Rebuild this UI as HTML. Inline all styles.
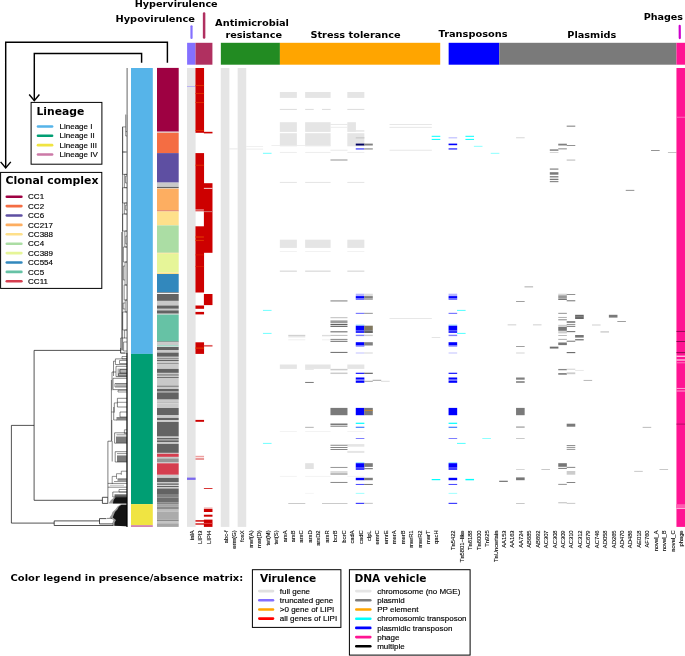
<!DOCTYPE html>
<html><head><meta charset="utf-8"><title>Presence/absence matrix</title>
<style>
html,body{margin:0;padding:0;background:#fff;}
svg{display:block;}
.b{font-family:"DejaVu Sans","Liberation Sans",sans-serif;font-weight:bold;fill:#000;}
.t{font-family:"Liberation Sans",sans-serif;fill:#000;stroke:#000;stroke-width:0.15;}
</style></head><body>
<svg width="685" height="656" viewBox="0 0 685 656">
<rect width="685" height="656" fill="#fff"/>
<g shape-rendering="auto">
<rect x="187.10" y="42.80" width="8.44" height="21.90" fill="#8470ff"/>
<rect x="195.54" y="42.80" width="16.87" height="21.90" fill="#b03060"/>
<rect x="220.85" y="42.80" width="59.06" height="21.90" fill="#228b22"/>
<rect x="279.91" y="42.80" width="160.30" height="21.90" fill="#ffa500"/>
<rect x="448.65" y="42.80" width="50.62" height="21.90" fill="#0000ff"/>
<rect x="499.27" y="42.80" width="177.18" height="21.90" fill="#7a7a7a"/>
<rect x="676.45" y="42.80" width="8.55" height="21.90" fill="#ff1493"/>
<line x1="191.5" y1="26.3" x2="191.5" y2="38.0" stroke="#8470ff" stroke-width="2.2" stroke-linecap="round"/>
<line x1="204.1" y1="13.6" x2="204.1" y2="37.6" stroke="#b03060" stroke-width="2.5" stroke-linecap="round"/>
<line x1="679.7" y1="25.9" x2="679.8" y2="38.1" stroke="#cd00cd" stroke-width="2.2" stroke-linecap="round"/>
<rect x="131.00" y="68.00" width="21.80" height="285.90" fill="#56b4e9"/>
<rect x="131.00" y="353.90" width="21.80" height="150.20" fill="#009e73"/>
<rect x="131.00" y="504.10" width="21.80" height="21.10" fill="#f0e442"/>
<rect x="131.00" y="525.20" width="21.80" height="1.70" fill="#cc79a7"/>
<rect x="157.00" y="67.90" width="21.70" height="63.80" fill="#9e0142"/>
<rect x="157.00" y="131.70" width="21.70" height="1.00" fill="#d9d9d9"/>
<rect x="157.00" y="132.70" width="21.70" height="20.40" fill="#f46d43"/>
<rect x="157.00" y="153.10" width="21.70" height="29.50" fill="#5e4fa2"/>
<rect x="157.00" y="182.60" width="21.70" height="4.30" fill="#c9c9c9"/>
<rect x="157.00" y="186.90" width="21.70" height="1.10" fill="#636363"/>
<rect x="157.00" y="188.00" width="21.70" height="0.70" fill="#c9c9c9"/>
<rect x="157.00" y="188.70" width="21.70" height="21.70" fill="#fdae61"/>
<rect x="157.00" y="210.40" width="21.70" height="1.00" fill="#d6604d"/>
<rect x="157.00" y="211.40" width="21.70" height="14.00" fill="#fee08b"/>
<rect x="157.00" y="225.40" width="21.70" height="27.40" fill="#abdda4"/>
<rect x="157.00" y="252.80" width="21.70" height="0.90" fill="#fee08b"/>
<rect x="157.00" y="253.70" width="21.70" height="18.90" fill="#e6f598"/>
<rect x="157.00" y="272.60" width="21.70" height="1.40" fill="#fee08b"/>
<rect x="157.00" y="274.00" width="21.70" height="18.40" fill="#3288bd"/>
<rect x="157.00" y="292.40" width="21.70" height="0.60" fill="#636363"/>
<rect x="157.00" y="293.00" width="21.70" height="1.00" fill="#f4f4f4"/>
<rect x="157.00" y="294.00" width="21.70" height="6.90" fill="#636363"/>
<rect x="157.00" y="300.90" width="21.70" height="4.60" fill="#c9c9c9"/>
<rect x="157.00" y="305.50" width="21.70" height="3.30" fill="#636363"/>
<rect x="157.00" y="308.80" width="21.70" height="1.60" fill="#c9c9c9"/>
<rect x="157.00" y="310.40" width="21.70" height="3.30" fill="#636363"/>
<rect x="157.00" y="313.70" width="21.70" height="0.90" fill="#c9c9c9"/>
<rect x="157.00" y="314.60" width="21.70" height="26.90" fill="#66c2a5"/>
<rect x="157.00" y="341.50" width="21.70" height="0.80" fill="#636363"/>
<rect x="157.00" y="342.30" width="21.70" height="2.70" fill="#c9c9c9"/>
<rect x="157.00" y="345.00" width="21.70" height="1.60" fill="#a5d9c8"/>
<rect x="157.00" y="346.60" width="21.70" height="0.40" fill="#c9c9c9"/>
<rect x="157.00" y="347.00" width="21.70" height="3.00" fill="#636363"/>
<rect x="157.00" y="350.00" width="21.70" height="2.60" fill="#c9c9c9"/>
<rect x="157.00" y="352.60" width="21.70" height="4.20" fill="#636363"/>
<rect x="157.00" y="356.80" width="21.70" height="1.10" fill="#c9c9c9"/>
<rect x="157.00" y="357.90" width="21.70" height="0.90" fill="#636363"/>
<rect x="157.00" y="358.80" width="21.70" height="1.00" fill="#c9c9c9"/>
<rect x="157.00" y="359.80" width="21.70" height="1.20" fill="#636363"/>
<rect x="157.00" y="361.00" width="21.70" height="2.40" fill="#c9c9c9"/>
<rect x="157.00" y="363.40" width="21.70" height="0.90" fill="#636363"/>
<rect x="157.00" y="364.30" width="21.70" height="4.60" fill="#c9c9c9"/>
<rect x="157.00" y="368.90" width="21.70" height="4.00" fill="#636363"/>
<rect x="157.00" y="372.90" width="21.70" height="1.50" fill="#c9c9c9"/>
<rect x="157.00" y="374.40" width="21.70" height="1.30" fill="#636363"/>
<rect x="157.00" y="375.70" width="21.70" height="1.40" fill="#c9c9c9"/>
<rect x="157.00" y="377.10" width="21.70" height="0.90" fill="#636363"/>
<rect x="157.00" y="378.00" width="21.70" height="7.70" fill="#c9c9c9"/>
<rect x="157.00" y="385.70" width="21.70" height="1.10" fill="#636363"/>
<rect x="157.00" y="386.80" width="21.70" height="2.20" fill="#c9c9c9"/>
<rect x="157.00" y="389.00" width="21.70" height="2.20" fill="#636363"/>
<rect x="157.00" y="391.20" width="21.70" height="1.80" fill="#969696"/>
<rect x="157.00" y="393.00" width="21.70" height="6.60" fill="#636363"/>
<rect x="157.00" y="399.60" width="21.70" height="2.40" fill="#c9c9c9"/>
<rect x="157.00" y="402.00" width="21.70" height="1.50" fill="#bdbdbd"/>
<rect x="157.00" y="403.50" width="21.70" height="4.50" fill="#c9c9c9"/>
<rect x="157.00" y="408.00" width="21.70" height="7.00" fill="#636363"/>
<rect x="157.00" y="415.00" width="21.70" height="2.90" fill="#c9c9c9"/>
<rect x="157.00" y="417.90" width="21.70" height="2.20" fill="#636363"/>
<rect x="157.00" y="420.10" width="21.70" height="1.90" fill="#c9c9c9"/>
<rect x="157.00" y="422.00" width="21.70" height="14.60" fill="#636363"/>
<rect x="157.00" y="436.60" width="21.70" height="1.40" fill="#c9c9c9"/>
<rect x="157.00" y="438.00" width="21.70" height="1.70" fill="#636363"/>
<rect x="157.00" y="439.70" width="21.70" height="0.60" fill="#c9c9c9"/>
<rect x="157.00" y="440.30" width="21.70" height="1.70" fill="#636363"/>
<rect x="157.00" y="442.00" width="21.70" height="1.90" fill="#c9c9c9"/>
<rect x="157.00" y="443.90" width="21.70" height="9.00" fill="#636363"/>
<rect x="157.00" y="452.90" width="21.70" height="0.90" fill="#c9c9c9"/>
<rect x="157.00" y="453.80" width="21.70" height="3.10" fill="#d53e4f"/>
<rect x="157.00" y="456.90" width="21.70" height="1.50" fill="#c9c9c9"/>
<rect x="157.00" y="458.40" width="21.70" height="3.60" fill="#969696"/>
<rect x="157.00" y="462.00" width="21.70" height="1.30" fill="#c9c9c9"/>
<rect x="157.00" y="463.30" width="21.70" height="11.50" fill="#d53e4f"/>
<rect x="157.00" y="474.80" width="21.70" height="3.10" fill="#c9c9c9"/>
<rect x="157.00" y="477.90" width="21.70" height="4.10" fill="#636363"/>
<rect x="157.00" y="482.00" width="21.70" height="1.40" fill="#c9c9c9"/>
<rect x="157.00" y="483.40" width="21.70" height="1.50" fill="#636363"/>
<rect x="157.00" y="484.90" width="21.70" height="0.90" fill="#f0f0f0"/>
<rect x="157.00" y="485.80" width="21.70" height="1.30" fill="#636363"/>
<rect x="157.00" y="487.10" width="21.70" height="1.40" fill="#c9c9c9"/>
<rect x="157.00" y="488.50" width="21.70" height="5.50" fill="#636363"/>
<rect x="157.00" y="494.00" width="21.70" height="3.70" fill="#808080"/>
<rect x="157.00" y="497.70" width="21.70" height="4.50" fill="#6e6e6e"/>
<rect x="157.00" y="502.20" width="21.70" height="1.90" fill="#858585"/>
<rect x="157.00" y="504.10" width="21.70" height="2.70" fill="#a3a3a3"/>
<rect x="157.00" y="506.80" width="21.70" height="2.80" fill="#8c8c8c"/>
<rect x="157.00" y="509.60" width="21.70" height="1.80" fill="#bdbdbd"/>
<rect x="157.00" y="511.40" width="21.70" height="8.20" fill="#ababab"/>
<rect x="157.00" y="519.60" width="21.70" height="1.90" fill="#8c8c8c"/>
<rect x="157.00" y="521.50" width="21.70" height="1.80" fill="#c4c4c4"/>
<rect x="157.00" y="523.30" width="21.70" height="3.60" fill="#a6a6a6"/>
<rect x="187.02" y="68.00" width="8.60" height="458.90" fill="#e5e5e5"/>
<rect x="187.02" y="86.10" width="8.60" height="0.60" fill="#9d90ff"/>
<rect x="187.02" y="477.60" width="8.60" height="2.30" fill="#7b68ee"/>
<rect x="195.46" y="68.00" width="8.60" height="64.80" fill="#cd0000"/>
<rect x="195.46" y="85.20" width="8.60" height="0.80" fill="#e23400"/>
<rect x="195.46" y="93.10" width="8.60" height="0.80" fill="#e23400"/>
<rect x="195.46" y="102.00" width="8.60" height="0.80" fill="#e23400"/>
<rect x="195.46" y="130.00" width="8.60" height="0.80" fill="#e23400"/>
<rect x="195.46" y="153.10" width="8.60" height="56.50" fill="#cd0000"/>
<rect x="195.46" y="164.80" width="8.60" height="0.80" fill="#e23400"/>
<rect x="195.46" y="210.35" width="8.60" height="0.90" fill="#cd0000"/>
<rect x="195.46" y="226.30" width="8.60" height="66.20" fill="#cd0000"/>
<rect x="195.46" y="236.40" width="8.60" height="1.20" fill="#e23400"/>
<rect x="195.46" y="239.90" width="8.60" height="1.00" fill="#e23400"/>
<rect x="195.46" y="254.55" width="8.60" height="0.70" fill="#e02000"/>
<rect x="195.46" y="266.15" width="8.60" height="0.70" fill="#e02000"/>
<rect x="195.46" y="305.50" width="8.60" height="3.30" fill="#cd0000"/>
<rect x="195.46" y="311.90" width="8.60" height="2.50" fill="#cd0000"/>
<rect x="195.46" y="342.30" width="8.60" height="11.60" fill="#cd0000"/>
<rect x="195.46" y="347.55" width="8.60" height="1.10" fill="#e23a00"/>
<rect x="195.46" y="419.90" width="8.60" height="1.90" fill="#cd0000"/>
<rect x="195.46" y="455.80" width="8.60" height="1.50" fill="#eda0a0"/>
<rect x="195.46" y="458.20" width="8.60" height="1.60" fill="#e58080"/>
<rect x="195.46" y="520.00" width="8.60" height="1.80" fill="#d83030"/>
<rect x="195.46" y="523.20" width="8.60" height="1.60" fill="#d83030"/>
<rect x="203.89" y="131.80" width="8.60" height="1.60" fill="#cd0000"/>
<rect x="203.89" y="183.20" width="8.60" height="69.60" fill="#cd0000"/>
<rect x="203.89" y="187.90" width="8.60" height="0.80" fill="#ffffff"/>
<rect x="203.89" y="211.30" width="8.60" height="0.80" fill="#d09090"/>
<rect x="203.89" y="294.00" width="8.60" height="11.10" fill="#cd0000"/>
<rect x="203.89" y="344.95" width="8.60" height="1.70" fill="#e06060"/>
<rect x="203.89" y="488.05" width="8.60" height="0.90" fill="#d42020"/>
<rect x="203.89" y="507.40" width="8.60" height="1.60" fill="#eeb0b0"/>
<rect x="203.89" y="509.00" width="8.60" height="3.00" fill="#cd0000"/>
<rect x="203.89" y="514.70" width="8.60" height="2.00" fill="#cd0000"/>
<rect x="203.89" y="519.60" width="8.60" height="7.30" fill="#cd0000"/>
<rect x="203.89" y="522.95" width="8.60" height="0.70" fill="#e66060"/>
<rect x="220.77" y="68.00" width="8.60" height="458.90" fill="#e5e5e5"/>
<rect x="237.64" y="68.00" width="8.60" height="458.90" fill="#e5e5e5"/>
<rect x="229.20" y="148.40" width="8.60" height="1.00" fill="#e8e8e8"/>
<rect x="246.08" y="146.05" width="17.03" height="0.90" fill="#efefef"/>
<rect x="246.08" y="148.65" width="17.03" height="0.90" fill="#ebebeb"/>
<rect x="262.95" y="152.80" width="8.60" height="1.00" fill="#70ffff"/>
<rect x="262.95" y="309.90" width="8.60" height="1.00" fill="#70ffff"/>
<rect x="262.95" y="332.90" width="8.60" height="1.00" fill="#70ffff"/>
<rect x="262.95" y="442.90" width="8.60" height="1.00" fill="#70ffff"/>
<rect x="279.83" y="92.00" width="17.03" height="5.90" fill="#e5e5e5"/>
<rect x="305.14" y="92.00" width="25.47" height="5.90" fill="#e5e5e5"/>
<rect x="347.32" y="92.00" width="17.03" height="5.90" fill="#e5e5e5"/>
<rect x="279.83" y="108.90" width="17.03" height="1.00" fill="#dcdcdc"/>
<rect x="305.14" y="108.90" width="8.60" height="1.00" fill="#dcdcdc"/>
<rect x="322.01" y="108.90" width="8.60" height="1.00" fill="#dcdcdc"/>
<rect x="347.32" y="108.90" width="17.03" height="1.00" fill="#dcdcdc"/>
<rect x="279.83" y="122.20" width="17.03" height="9.70" fill="#e5e5e5"/>
<rect x="305.14" y="122.20" width="25.47" height="9.70" fill="#e5e5e5"/>
<rect x="347.32" y="122.20" width="8.60" height="9.70" fill="#e5e5e5"/>
<rect x="355.76" y="130.20" width="8.60" height="1.50" fill="#e5e5e5"/>
<rect x="279.83" y="133.20" width="17.03" height="13.10" fill="#e5e5e5"/>
<rect x="305.14" y="133.20" width="25.47" height="13.10" fill="#e5e5e5"/>
<rect x="347.32" y="133.20" width="17.03" height="13.10" fill="#e5e5e5"/>
<rect x="355.76" y="137.00" width="8.60" height="1.60" fill="#cfcfcf"/>
<rect x="271.39" y="145.20" width="59.22" height="0.80" fill="#ececec"/>
<rect x="279.83" y="151.95" width="17.03" height="0.90" fill="#ececec"/>
<rect x="305.14" y="151.95" width="25.47" height="0.90" fill="#ececec"/>
<rect x="347.32" y="151.95" width="17.03" height="0.90" fill="#ececec"/>
<rect x="279.83" y="181.90" width="17.03" height="1.00" fill="#e4e4e4"/>
<rect x="305.14" y="181.90" width="25.47" height="1.00" fill="#e4e4e4"/>
<rect x="347.32" y="181.90" width="17.03" height="1.00" fill="#e4e4e4"/>
<rect x="279.83" y="239.70" width="17.03" height="8.20" fill="#e5e5e5"/>
<rect x="305.14" y="239.70" width="25.47" height="8.20" fill="#e5e5e5"/>
<rect x="347.32" y="239.70" width="17.03" height="8.20" fill="#e5e5e5"/>
<rect x="279.83" y="250.95" width="17.03" height="0.90" fill="#f0f0f0"/>
<rect x="305.14" y="250.95" width="25.47" height="0.90" fill="#f0f0f0"/>
<rect x="347.32" y="250.95" width="17.03" height="0.90" fill="#f0f0f0"/>
<rect x="279.83" y="270.50" width="17.03" height="1.40" fill="#dedede"/>
<rect x="305.14" y="270.50" width="25.47" height="1.40" fill="#dedede"/>
<rect x="347.32" y="270.50" width="17.03" height="1.40" fill="#dedede"/>
<rect x="288.26" y="334.85" width="17.03" height="1.10" fill="#cfcfcf"/>
<rect x="288.26" y="336.25" width="17.03" height="1.10" fill="#e0e0e0"/>
<rect x="288.26" y="339.20" width="17.03" height="1.20" fill="#f2f2f2"/>
<rect x="322.01" y="334.90" width="8.60" height="1.40" fill="#dddddd"/>
<rect x="322.01" y="339.20" width="8.60" height="1.20" fill="#f2f2f2"/>
<rect x="279.83" y="364.50" width="17.03" height="4.40" fill="#e5e5e5"/>
<rect x="305.14" y="364.50" width="25.47" height="4.40" fill="#e5e5e5"/>
<rect x="347.32" y="364.50" width="17.03" height="4.40" fill="#e5e5e5"/>
<rect x="305.14" y="368.90" width="8.60" height="1.10" fill="#e9e9e9"/>
<rect x="305.14" y="381.95" width="8.60" height="0.90" fill="#6a6a6a"/>
<rect x="305.14" y="426.85" width="8.60" height="0.90" fill="#aaaaaa"/>
<rect x="279.83" y="431.10" width="17.03" height="0.80" fill="#f0f0f0"/>
<rect x="305.14" y="431.10" width="25.47" height="0.80" fill="#f0f0f0"/>
<rect x="347.32" y="431.10" width="17.03" height="0.80" fill="#f0f0f0"/>
<rect x="305.14" y="463.20" width="8.60" height="5.80" fill="#e2e2e2"/>
<rect x="279.83" y="475.90" width="17.03" height="0.80" fill="#f0f0f0"/>
<rect x="305.14" y="475.90" width="25.47" height="0.80" fill="#f0f0f0"/>
<rect x="347.32" y="475.90" width="17.03" height="0.80" fill="#f0f0f0"/>
<rect x="305.14" y="492.90" width="8.60" height="0.80" fill="#f2f2f2"/>
<rect x="288.26" y="503.00" width="17.03" height="0.80" fill="#bdbdbd"/>
<rect x="322.01" y="503.00" width="25.47" height="0.80" fill="#bdbdbd"/>
<rect x="347.32" y="444.10" width="17.03" height="2.60" fill="#e5e5e5"/>
<rect x="347.32" y="450.90" width="17.03" height="2.00" fill="#e5e5e5"/>
<rect x="330.45" y="123.95" width="17.03" height="0.90" fill="#e6e6e6"/>
<rect x="330.45" y="126.85" width="17.03" height="0.90" fill="#ececec"/>
<rect x="330.45" y="149.75" width="17.03" height="0.90" fill="#e6e6e6"/>
<rect x="330.45" y="159.25" width="17.03" height="1.50" fill="#b8b8b8"/>
<rect x="330.45" y="300.15" width="17.03" height="1.50" fill="#a8a8a8"/>
<rect x="330.45" y="317.20" width="17.03" height="1.00" fill="#bdbdbd"/>
<rect x="330.45" y="320.40" width="17.03" height="2.60" fill="#9c9c9c"/>
<rect x="330.45" y="323.85" width="17.03" height="1.10" fill="#585858"/>
<rect x="330.45" y="325.75" width="17.03" height="1.10" fill="#585858"/>
<rect x="330.45" y="331.20" width="17.03" height="1.20" fill="#7a7a7a"/>
<rect x="330.45" y="334.90" width="17.03" height="1.00" fill="#bdbdbd"/>
<rect x="330.45" y="338.90" width="17.03" height="1.00" fill="#8a8a8a"/>
<rect x="330.45" y="340.80" width="17.03" height="1.00" fill="#6a6a6a"/>
<rect x="330.45" y="351.90" width="17.03" height="1.00" fill="#6a6a6a"/>
<rect x="330.45" y="368.85" width="17.03" height="1.50" fill="#cccccc"/>
<rect x="330.45" y="372.55" width="17.03" height="1.50" fill="#cccccc"/>
<rect x="330.45" y="407.90" width="17.03" height="7.30" fill="#7a7a7a"/>
<rect x="330.45" y="423.50" width="17.03" height="1.60" fill="#7a7a7a"/>
<rect x="330.45" y="425.70" width="17.03" height="1.10" fill="#8c8c8c"/>
<rect x="330.45" y="444.80" width="17.03" height="0.80" fill="#6a6a6a"/>
<rect x="330.45" y="447.00" width="17.03" height="0.80" fill="#6a6a6a"/>
<rect x="330.45" y="449.00" width="17.03" height="0.80" fill="#6a6a6a"/>
<rect x="330.45" y="466.95" width="17.03" height="0.90" fill="#8a8a8a"/>
<rect x="330.45" y="471.00" width="17.03" height="1.40" fill="#dddddd"/>
<rect x="330.45" y="472.60" width="17.03" height="2.40" fill="#bdbdbd"/>
<rect x="330.45" y="481.95" width="17.03" height="0.90" fill="#7a7a7a"/>
<rect x="389.51" y="124.00" width="42.34" height="0.80" fill="#e2e2e2"/>
<rect x="389.51" y="126.90" width="42.34" height="0.80" fill="#e2e2e2"/>
<rect x="389.51" y="149.80" width="42.34" height="0.80" fill="#e2e2e2"/>
<rect x="389.51" y="318.00" width="42.34" height="0.80" fill="#e2e2e2"/>
<rect x="431.69" y="135.80" width="8.60" height="1.00" fill="#00ffff"/>
<rect x="431.69" y="138.90" width="8.60" height="1.00" fill="#00ffff"/>
<rect x="431.69" y="337.00" width="8.60" height="0.80" fill="#dedede"/>
<rect x="431.69" y="479.00" width="8.60" height="1.20" fill="#00ffff"/>
<rect x="448.57" y="137.00" width="8.60" height="1.50" fill="#ccccff"/>
<rect x="355.76" y="143.60" width="8.60" height="1.90" fill="#000060"/>
<rect x="364.20" y="143.60" width="8.60" height="1.90" fill="#808080"/>
<rect x="448.57" y="143.60" width="8.60" height="1.60" fill="#0000ff"/>
<rect x="355.76" y="148.10" width="8.60" height="1.60" fill="#6a6aff"/>
<rect x="364.20" y="148.10" width="8.60" height="1.60" fill="#aaaaaa"/>
<rect x="448.57" y="148.00" width="8.60" height="1.80" fill="#6666ff"/>
<rect x="355.76" y="293.70" width="8.60" height="2.40" fill="#b4b4ff"/>
<rect x="448.57" y="293.70" width="8.60" height="2.40" fill="#b4b4ff"/>
<rect x="364.20" y="293.70" width="8.60" height="2.40" fill="#dddddd"/>
<rect x="355.76" y="296.10" width="8.60" height="2.20" fill="#0000ff"/>
<rect x="448.57" y="296.10" width="8.60" height="2.20" fill="#0000ff"/>
<rect x="364.20" y="296.10" width="8.60" height="2.20" fill="#808080"/>
<rect x="355.76" y="298.30" width="8.60" height="1.50" fill="#5555ff"/>
<rect x="448.57" y="298.30" width="8.60" height="1.50" fill="#5555ff"/>
<rect x="364.20" y="298.30" width="8.60" height="1.50" fill="#9a9a9a"/>
<rect x="355.76" y="312.85" width="8.60" height="0.90" fill="#5050ff"/>
<rect x="448.57" y="312.85" width="8.60" height="0.90" fill="#5050ff"/>
<rect x="364.20" y="312.85" width="8.60" height="0.90" fill="#888888"/>
<rect x="355.76" y="324.40" width="8.60" height="1.30" fill="#b0e8ff"/>
<rect x="448.57" y="324.40" width="8.60" height="1.30" fill="#b0e8ff"/>
<rect x="355.76" y="325.70" width="8.60" height="4.60" fill="#0000ff"/>
<rect x="448.57" y="325.70" width="8.60" height="4.60" fill="#0000ff"/>
<rect x="364.20" y="325.70" width="8.60" height="4.60" fill="#807860"/>
<rect x="355.76" y="330.30" width="8.60" height="2.70" fill="#3030ff"/>
<rect x="448.57" y="330.30" width="8.60" height="2.70" fill="#3030ff"/>
<rect x="364.20" y="330.30" width="8.60" height="2.70" fill="#666666"/>
<rect x="355.76" y="334.70" width="8.60" height="1.40" fill="#8080ff"/>
<rect x="448.57" y="334.70" width="8.60" height="1.40" fill="#8080ff"/>
<rect x="364.20" y="334.70" width="8.60" height="1.40" fill="#cccccc"/>
<rect x="355.76" y="342.20" width="8.60" height="3.30" fill="#0000ff"/>
<rect x="448.57" y="342.20" width="8.60" height="3.30" fill="#0000ff"/>
<rect x="364.20" y="342.20" width="8.60" height="3.30" fill="#808080"/>
<rect x="355.76" y="345.50" width="8.60" height="1.10" fill="#7070ff"/>
<rect x="448.57" y="345.50" width="8.60" height="1.10" fill="#7070ff"/>
<rect x="355.76" y="352.40" width="8.60" height="1.20" fill="#ccccff"/>
<rect x="448.57" y="352.40" width="8.60" height="1.20" fill="#ccccff"/>
<rect x="364.20" y="352.40" width="8.60" height="1.20" fill="#dddddd"/>
<rect x="355.76" y="372.75" width="8.60" height="1.10" fill="#0000ff"/>
<rect x="448.57" y="372.75" width="8.60" height="1.10" fill="#0000ff"/>
<rect x="364.20" y="372.75" width="8.60" height="1.10" fill="#585858"/>
<rect x="355.76" y="377.50" width="8.60" height="2.20" fill="#0000ff"/>
<rect x="448.57" y="377.50" width="8.60" height="2.20" fill="#0000ff"/>
<rect x="355.76" y="379.70" width="8.60" height="0.90" fill="#9999ff"/>
<rect x="448.57" y="379.70" width="8.60" height="0.90" fill="#9999ff"/>
<rect x="355.76" y="380.60" width="8.60" height="2.20" fill="#0000ff"/>
<rect x="448.57" y="380.60" width="8.60" height="2.20" fill="#0000ff"/>
<rect x="364.20" y="380.85" width="8.60" height="0.70" fill="#7a7a7a"/>
<rect x="372.63" y="379.85" width="8.60" height="0.70" fill="#7a7a7a"/>
<rect x="381.07" y="380.85" width="8.60" height="0.70" fill="#cccccc"/>
<rect x="355.76" y="407.90" width="8.60" height="7.30" fill="#0000ff"/>
<rect x="448.57" y="407.90" width="8.60" height="7.30" fill="#0000ff"/>
<rect x="364.20" y="407.90" width="8.60" height="7.30" fill="#7a7a7a"/>
<rect x="364.20" y="409.95" width="8.60" height="0.70" fill="#d98a1e"/>
<rect x="355.76" y="422.70" width="8.60" height="1.20" fill="#00ffff"/>
<rect x="448.57" y="422.70" width="8.60" height="1.20" fill="#00ffff"/>
<rect x="355.76" y="426.70" width="8.60" height="1.20" fill="#4080ff"/>
<rect x="448.57" y="426.70" width="8.60" height="1.20" fill="#4080ff"/>
<rect x="355.76" y="438.05" width="8.60" height="0.90" fill="#7070ff"/>
<rect x="448.57" y="438.05" width="8.60" height="0.90" fill="#7070ff"/>
<rect x="355.76" y="462.30" width="8.60" height="0.90" fill="#80e0ff"/>
<rect x="448.57" y="462.30" width="8.60" height="0.90" fill="#80e0ff"/>
<rect x="355.76" y="463.20" width="8.60" height="4.50" fill="#0000ff"/>
<rect x="448.57" y="463.20" width="8.60" height="4.50" fill="#0000ff"/>
<rect x="364.20" y="463.20" width="8.60" height="3.70" fill="#7a7a7a"/>
<rect x="355.76" y="467.70" width="8.60" height="2.30" fill="#4040ff"/>
<rect x="448.57" y="467.70" width="8.60" height="2.30" fill="#4040ff"/>
<rect x="364.20" y="468.20" width="8.60" height="1.00" fill="#666666"/>
<rect x="355.76" y="477.80" width="8.60" height="2.40" fill="#0000ff"/>
<rect x="448.57" y="477.80" width="8.60" height="2.40" fill="#0000ff"/>
<rect x="364.20" y="477.80" width="8.60" height="2.40" fill="#7a7a7a"/>
<rect x="355.76" y="483.95" width="8.60" height="0.90" fill="#3030ff"/>
<rect x="448.57" y="483.95" width="8.60" height="0.90" fill="#3030ff"/>
<rect x="364.20" y="483.95" width="8.60" height="0.90" fill="#666666"/>
<rect x="355.76" y="492.90" width="8.60" height="0.80" fill="#88ffff"/>
<rect x="448.57" y="492.90" width="8.60" height="0.80" fill="#88ffff"/>
<rect x="355.76" y="502.80" width="8.60" height="1.20" fill="#4040ff"/>
<rect x="448.57" y="502.80" width="8.60" height="1.20" fill="#4040ff"/>
<rect x="364.20" y="502.80" width="8.60" height="1.20" fill="#cccccc"/>
<rect x="465.44" y="135.80" width="8.60" height="1.00" fill="#00ffff"/>
<rect x="465.44" y="138.90" width="8.60" height="1.00" fill="#00ffff"/>
<rect x="473.88" y="145.85" width="8.60" height="0.90" fill="#80ffff"/>
<rect x="490.75" y="152.85" width="8.60" height="0.90" fill="#80ffff"/>
<rect x="457.00" y="309.90" width="8.60" height="1.00" fill="#50ffff"/>
<rect x="457.00" y="332.90" width="8.60" height="1.00" fill="#50ffff"/>
<rect x="457.00" y="442.90" width="8.60" height="1.00" fill="#50ffff"/>
<rect x="465.44" y="478.90" width="8.60" height="1.40" fill="#00ffff"/>
<rect x="482.31" y="438.05" width="8.60" height="0.90" fill="#80ffff"/>
<rect x="516.06" y="137.05" width="8.60" height="1.30" fill="#e0e0e0"/>
<rect x="549.81" y="149.20" width="8.60" height="1.80" fill="#999999"/>
<rect x="549.81" y="152.10" width="8.60" height="0.80" fill="#cccccc"/>
<rect x="549.81" y="168.45" width="8.60" height="1.30" fill="#8a8a8a"/>
<rect x="549.81" y="172.20" width="8.60" height="2.50" fill="#7a7a7a"/>
<rect x="549.81" y="176.15" width="8.60" height="1.30" fill="#7a7a7a"/>
<rect x="549.81" y="178.75" width="8.60" height="1.30" fill="#7a7a7a"/>
<rect x="549.81" y="181.00" width="8.60" height="1.20" fill="#8a8a8a"/>
<rect x="558.25" y="143.70" width="8.60" height="1.80" fill="#808080"/>
<rect x="558.25" y="148.10" width="8.60" height="1.40" fill="#aaaaaa"/>
<rect x="566.68" y="125.55" width="8.60" height="1.30" fill="#999999"/>
<rect x="566.68" y="145.00" width="8.60" height="0.80" fill="#777777"/>
<rect x="566.68" y="159.40" width="8.60" height="1.40" fill="#cccccc"/>
<rect x="625.74" y="189.90" width="8.60" height="0.80" fill="#777777"/>
<rect x="651.05" y="150.05" width="8.60" height="0.90" fill="#888888"/>
<rect x="667.93" y="152.15" width="8.60" height="0.70" fill="#aaaaaa"/>
<rect x="524.50" y="286.10" width="8.60" height="1.40" fill="#c4c4c4"/>
<rect x="558.25" y="293.70" width="8.60" height="1.60" fill="#d8d8d8"/>
<rect x="558.25" y="295.30" width="8.60" height="2.90" fill="#999999"/>
<rect x="558.25" y="298.50" width="8.60" height="1.50" fill="#777777"/>
<rect x="558.25" y="312.85" width="8.60" height="0.90" fill="#888888"/>
<rect x="558.25" y="316.95" width="8.60" height="0.90" fill="#aaaaaa"/>
<rect x="558.25" y="319.00" width="8.60" height="1.40" fill="#aaaaaa"/>
<rect x="558.25" y="324.80" width="8.60" height="1.80" fill="#cccccc"/>
<rect x="558.25" y="326.90" width="8.60" height="3.90" fill="#777777"/>
<rect x="558.25" y="331.20" width="8.60" height="2.20" fill="#cccccc"/>
<rect x="558.25" y="335.10" width="8.60" height="0.80" fill="#aaaaaa"/>
<rect x="558.25" y="338.90" width="8.60" height="0.80" fill="#999999"/>
<rect x="558.25" y="342.50" width="8.60" height="2.60" fill="#777777"/>
<rect x="558.25" y="368.95" width="8.60" height="1.30" fill="#888888"/>
<rect x="558.25" y="373.00" width="8.60" height="1.80" fill="#888888"/>
<rect x="558.25" y="463.20" width="8.60" height="3.60" fill="#777777"/>
<rect x="558.25" y="467.90" width="8.60" height="0.80" fill="#555555"/>
<rect x="558.25" y="483.90" width="8.60" height="0.80" fill="#777777"/>
<rect x="558.25" y="502.05" width="8.60" height="1.30" fill="#cccccc"/>
<rect x="566.68" y="294.00" width="8.60" height="0.80" fill="#777777"/>
<rect x="566.68" y="300.00" width="8.60" height="1.40" fill="#999999"/>
<rect x="566.68" y="321.10" width="8.60" height="1.80" fill="#888888"/>
<rect x="566.68" y="323.95" width="8.60" height="0.90" fill="#888888"/>
<rect x="566.68" y="325.85" width="8.60" height="0.90" fill="#666666"/>
<rect x="566.68" y="331.05" width="8.60" height="1.10" fill="#777777"/>
<rect x="566.68" y="340.75" width="8.60" height="0.90" fill="#666666"/>
<rect x="566.68" y="352.05" width="8.60" height="1.10" fill="#666666"/>
<rect x="566.68" y="368.75" width="8.60" height="0.90" fill="#cccccc"/>
<rect x="566.68" y="372.40" width="8.60" height="1.80" fill="#cccccc"/>
<rect x="566.68" y="423.70" width="8.60" height="3.00" fill="#7a7a7a"/>
<rect x="566.68" y="445.10" width="8.60" height="0.80" fill="#777777"/>
<rect x="566.68" y="446.90" width="8.60" height="0.80" fill="#777777"/>
<rect x="566.68" y="448.90" width="8.60" height="0.80" fill="#777777"/>
<rect x="566.68" y="466.90" width="8.60" height="0.80" fill="#666666"/>
<rect x="566.68" y="471.00" width="8.60" height="3.70" fill="#cccccc"/>
<rect x="566.68" y="482.00" width="8.60" height="0.80" fill="#666666"/>
<rect x="566.68" y="502.90" width="8.60" height="0.80" fill="#bbbbbb"/>
<rect x="575.12" y="314.80" width="8.60" height="4.20" fill="#666666"/>
<rect x="575.12" y="316.50" width="8.60" height="0.60" fill="#999999"/>
<rect x="575.12" y="335.00" width="8.60" height="2.60" fill="#777777"/>
<rect x="575.12" y="339.10" width="8.60" height="1.30" fill="#777777"/>
<rect x="575.12" y="369.95" width="8.60" height="0.70" fill="#dddddd"/>
<rect x="549.81" y="346.65" width="8.60" height="1.90" fill="#6e6e6e"/>
<rect x="583.56" y="379.95" width="8.60" height="0.70" fill="#999999"/>
<rect x="592.00" y="324.30" width="8.60" height="1.40" fill="#dddddd"/>
<rect x="600.43" y="331.20" width="8.60" height="1.40" fill="#cccccc"/>
<rect x="608.87" y="314.80" width="8.60" height="2.80" fill="#7a7a7a"/>
<rect x="617.31" y="321.00" width="8.60" height="0.80" fill="#888888"/>
<rect x="507.63" y="324.10" width="8.60" height="1.40" fill="#dddddd"/>
<rect x="532.94" y="324.10" width="8.60" height="1.40" fill="#dddddd"/>
<rect x="516.06" y="301.00" width="8.60" height="0.80" fill="#888888"/>
<rect x="516.06" y="346.00" width="8.60" height="0.80" fill="#888888"/>
<rect x="516.06" y="352.40" width="8.60" height="1.20" fill="#dddddd"/>
<rect x="516.06" y="377.50" width="8.60" height="2.20" fill="#808080"/>
<rect x="516.06" y="381.00" width="8.60" height="2.00" fill="#999999"/>
<rect x="516.06" y="407.90" width="8.60" height="7.30" fill="#7a7a7a"/>
<rect x="516.06" y="426.40" width="8.60" height="1.40" fill="#aaaaaa"/>
<rect x="516.06" y="438.10" width="8.60" height="0.80" fill="#bbbbbb"/>
<rect x="516.06" y="469.00" width="8.60" height="0.80" fill="#cccccc"/>
<rect x="516.06" y="477.40" width="8.60" height="2.80" fill="#777777"/>
<rect x="516.06" y="503.00" width="8.60" height="0.80" fill="#bbbbbb"/>
<rect x="499.19" y="480.75" width="8.60" height="1.10" fill="#666666"/>
<rect x="541.37" y="469.00" width="8.60" height="0.80" fill="#bbbbbb"/>
<rect x="634.18" y="470.90" width="8.60" height="0.80" fill="#bbbbbb"/>
<rect x="642.62" y="426.90" width="8.60" height="0.80" fill="#aaaaaa"/>
<rect x="659.49" y="469.00" width="8.60" height="0.80" fill="#bbbbbb"/>
<rect x="676.45" y="68.00" width="8.55" height="458.90" fill="#ff1493"/>
<rect x="676.45" y="116.80" width="8.55" height="0.80" fill="#ff80c4"/>
<rect x="676.45" y="330.95" width="8.55" height="0.90" fill="#8b0a50"/>
<rect x="676.45" y="341.00" width="8.55" height="1.00" fill="#8b0a50"/>
<rect x="676.45" y="352.10" width="8.55" height="1.00" fill="#8b0a50"/>
<rect x="676.45" y="355.70" width="8.55" height="1.00" fill="#ffffff"/>
<rect x="676.45" y="359.50" width="8.55" height="1.00" fill="#ffffff"/>
<rect x="676.45" y="362.35" width="8.55" height="0.90" fill="#ff80c4"/>
<rect x="676.45" y="387.95" width="8.55" height="0.90" fill="#ffb0da"/>
<rect x="676.45" y="390.55" width="8.55" height="0.90" fill="#ffb0da"/>
<rect x="676.45" y="423.70" width="8.55" height="0.80" fill="#a00d5c"/>
<rect x="676.45" y="504.20" width="8.55" height="4.00" fill="#ff5cb0"/>
<rect x="676.45" y="508.00" width="8.55" height="0.80" fill="#ffd0e8"/>
</g>
<g font-family="'Liberation Sans',sans-serif" font-size="5.8" fill="#000" stroke="#000" stroke-width="0.1"><text transform="translate(193.77,530.4) rotate(-90)" text-anchor="end">inlA</text>
<text transform="translate(202.21,530.4) rotate(-90)" text-anchor="end">LIPI3</text>
<text transform="translate(210.64,530.4) rotate(-90)" text-anchor="end">LIPI4</text>
<text transform="translate(227.52,530.4) rotate(-90)" text-anchor="end">abc-f</text>
<text transform="translate(235.95,530.4) rotate(-90)" text-anchor="end">erm(G)</text>
<text transform="translate(244.39,530.4) rotate(-90)" text-anchor="end">fosX</text>
<text transform="translate(252.83,530.4) rotate(-90)" text-anchor="end">mef(A)</text>
<text transform="translate(261.26,530.4) rotate(-90)" text-anchor="end">msr(D)</text>
<text transform="translate(269.70,530.4) rotate(-90)" text-anchor="end">tet(M)</text>
<text transform="translate(278.14,530.4) rotate(-90)" text-anchor="end">tet(S)</text>
<text transform="translate(286.58,530.4) rotate(-90)" text-anchor="end">arsA</text>
<text transform="translate(295.01,530.4) rotate(-90)" text-anchor="end">arsB</text>
<text transform="translate(303.45,530.4) rotate(-90)" text-anchor="end">arsC</text>
<text transform="translate(311.89,530.4) rotate(-90)" text-anchor="end">arsD</text>
<text transform="translate(320.32,530.4) rotate(-90)" text-anchor="end">arsD2</text>
<text transform="translate(328.76,530.4) rotate(-90)" text-anchor="end">arsR</text>
<text transform="translate(337.20,530.4) rotate(-90)" text-anchor="end">bcrB</text>
<text transform="translate(345.63,530.4) rotate(-90)" text-anchor="end">bcrC</text>
<text transform="translate(354.07,530.4) rotate(-90)" text-anchor="end">cadA</text>
<text transform="translate(362.51,530.4) rotate(-90)" text-anchor="end">cadC</text>
<text transform="translate(370.95,530.4) rotate(-90)" text-anchor="end">clpL</text>
<text transform="translate(379.38,530.4) rotate(-90)" text-anchor="end">emrC</text>
<text transform="translate(387.82,530.4) rotate(-90)" text-anchor="end">emrE</text>
<text transform="translate(396.26,530.4) rotate(-90)" text-anchor="end">merA</text>
<text transform="translate(404.69,530.4) rotate(-90)" text-anchor="end">merB</text>
<text transform="translate(413.13,530.4) rotate(-90)" text-anchor="end">merR1</text>
<text transform="translate(421.57,530.4) rotate(-90)" text-anchor="end">merR2</text>
<text transform="translate(430.00,530.4) rotate(-90)" text-anchor="end">merT</text>
<text transform="translate(438.44,530.4) rotate(-90)" text-anchor="end">qacH</text>
<text transform="translate(455.32,530.4) rotate(-90)" text-anchor="end">Tn5422</text>
<text transform="translate(463.75,530.4) rotate(-90)" text-anchor="end">Tn5801−like</text>
<text transform="translate(472.19,530.4) rotate(-90)" text-anchor="end">Tn6188</text>
<text transform="translate(480.63,530.4) rotate(-90)" text-anchor="end">Tn6000</text>
<text transform="translate(489.06,530.4) rotate(-90)" text-anchor="end">Tn925</text>
<text transform="translate(497.50,530.4) rotate(-90)" text-anchor="end">TnUncertain</text>
<text transform="translate(505.94,530.4) rotate(-90)" text-anchor="end">AA153</text>
<text transform="translate(514.37,530.4) rotate(-90)" text-anchor="end">AA163</text>
<text transform="translate(522.81,530.4) rotate(-90)" text-anchor="end">AA724</text>
<text transform="translate(531.25,530.4) rotate(-90)" text-anchor="end">AB685</text>
<text transform="translate(539.69,530.4) rotate(-90)" text-anchor="end">AB692</text>
<text transform="translate(548.12,530.4) rotate(-90)" text-anchor="end">AC307</text>
<text transform="translate(556.56,530.4) rotate(-90)" text-anchor="end">AC308</text>
<text transform="translate(565.00,530.4) rotate(-90)" text-anchor="end">AC309</text>
<text transform="translate(573.43,530.4) rotate(-90)" text-anchor="end">AC310</text>
<text transform="translate(581.87,530.4) rotate(-90)" text-anchor="end">AC312</text>
<text transform="translate(590.31,530.4) rotate(-90)" text-anchor="end">AC679</text>
<text transform="translate(598.74,530.4) rotate(-90)" text-anchor="end">AC746</text>
<text transform="translate(607.18,530.4) rotate(-90)" text-anchor="end">AD058</text>
<text transform="translate(615.62,530.4) rotate(-90)" text-anchor="end">AD265</text>
<text transform="translate(624.06,530.4) rotate(-90)" text-anchor="end">AD470</text>
<text transform="translate(632.49,530.4) rotate(-90)" text-anchor="end">AD486</text>
<text transform="translate(640.93,530.4) rotate(-90)" text-anchor="end">AE018</text>
<text transform="translate(649.37,530.4) rotate(-90)" text-anchor="end">AF760</text>
<text transform="translate(657.80,530.4) rotate(-90)" text-anchor="end">novel_A</text>
<text transform="translate(666.24,530.4) rotate(-90)" text-anchor="end">novel_B</text>
<text transform="translate(674.68,530.4) rotate(-90)" text-anchor="end">novel_C</text>
<text transform="translate(683.11,530.4) rotate(-90)" text-anchor="end">phage</text></g>
<polyline fill="none" stroke="#111" stroke-width="0.72" points="11.40,523.10 11.40,425.40 34.10,425.40"/>
<polyline fill="none" stroke="#111" stroke-width="0.72" points="120.60,350.40 34.10,350.40 34.10,500.30 102.40,500.30"/>
<polyline fill="none" stroke="#111" stroke-width="0.72" points="11.40,523.10 54.20,523.10"/>
<polyline fill="none" stroke="#111" stroke-width="0.72" points="99.50,520.90 54.20,520.90 54.20,525.50 113.30,525.50"/>
<polyline fill="none" stroke="#111" stroke-width="0.72" points="102.40,497.30 107.80,497.30 107.80,503.40 102.40,503.40 102.40,497.30"/>
<line x1="107.90" y1="441.20" x2="107.90" y2="497.30" stroke="#111" stroke-width="0.55"/>
<polyline fill="none" stroke="#111" stroke-width="0.72" points="106.40,518.60 99.50,518.60 99.50,523.90 113.00,523.90"/>
<line x1="127.10" y1="68.00" x2="127.10" y2="115.00" stroke="#555" stroke-width="0.9"/>
<line x1="127.10" y1="115.00" x2="127.10" y2="353.00" stroke="#444" stroke-width="0.9"/>
<line x1="127.00" y1="353.00" x2="127.00" y2="526.90" stroke="#111" stroke-width="1.3"/>
<line x1="125.70" y1="114.50" x2="125.70" y2="131.60" stroke="#111" stroke-width="0.5"/>
<line x1="122.60" y1="126.90" x2="122.60" y2="350.40" stroke="#111" stroke-width="0.55"/>
<line x1="121.60" y1="232.00" x2="121.60" y2="350.40" stroke="#111" stroke-width="0.45"/>
<polyline fill="none" stroke="#111" stroke-width="0.45" points="125.70,126.90 122.60,126.90 122.60,152.00 125.70,152.00"/>
<polyline fill="none" stroke="#111" stroke-width="0.45" points="127.00,131.60 125.70,131.60 125.70,136.00 127.00,136.00"/>
<polyline fill="none" stroke="#111" stroke-width="0.45" points="127.00,152.00 122.60,152.00 122.60,174.40 127.00,174.40"/>
<polyline fill="none" stroke="#111" stroke-width="0.45" points="127.00,174.40 124.40,174.40 124.40,187.70 127.00,187.70"/>
<polyline fill="none" stroke="#111" stroke-width="0.45" points="127.00,176.00 125.50,176.00 125.50,183.00 127.00,183.00"/>
<polyline fill="none" stroke="#111" stroke-width="0.45" points="127.00,187.70 122.60,187.70 122.60,203.00 127.00,203.00"/>
<polyline fill="none" stroke="#111" stroke-width="0.45" points="127.00,203.00 124.40,203.00 124.40,214.00 127.00,214.00"/>
<polyline fill="none" stroke="#111" stroke-width="0.45" points="127.00,205.00 125.60,205.00 125.60,210.00 127.00,210.00"/>
<polyline fill="none" stroke="#111" stroke-width="0.45" points="127.00,214.00 122.60,214.00 122.60,231.00 127.00,231.00"/>
<polyline fill="none" stroke="#111" stroke-width="0.45" points="127.00,231.00 124.80,231.00 124.80,247.00 127.00,247.00"/>
<polyline fill="none" stroke="#111" stroke-width="0.45" points="127.00,236.00 125.80,236.00 125.80,244.00 127.00,244.00"/>
<polyline fill="none" stroke="#111" stroke-width="0.45" points="127.00,247.00 123.40,247.00 123.40,262.00 127.00,262.00"/>
<polyline fill="none" stroke="#111" stroke-width="0.45" points="127.00,262.00 125.00,262.00 125.00,285.00 127.00,285.00"/>
<polyline fill="none" stroke="#111" stroke-width="0.45" points="125.00,266.00 123.40,266.00 123.40,280.00 125.00,280.00"/>
<polyline fill="none" stroke="#111" stroke-width="0.45" points="127.00,285.00 124.20,285.00 124.20,300.00 127.00,300.00"/>
<polyline fill="none" stroke="#111" stroke-width="0.45" points="127.00,300.00 125.20,300.00 125.20,312.00 127.00,312.00"/>
<polyline fill="none" stroke="#111" stroke-width="0.45" points="125.20,303.00 123.20,303.00 123.20,309.00 125.20,309.00"/>
<polyline fill="none" stroke="#111" stroke-width="0.45" points="127.00,312.00 122.60,312.00 122.60,330.00 127.00,330.00"/>
<polyline fill="none" stroke="#111" stroke-width="0.45" points="127.00,330.00 124.60,330.00 124.60,338.00 127.00,338.00"/>
<polyline fill="none" stroke="#111" stroke-width="0.45" points="125.00,338.00 120.60,338.00 120.60,353.00 125.00,353.00"/>
<polyline fill="none" stroke="#111" stroke-width="0.45" points="127.00,342.00 123.60,342.00 123.60,351.00 127.00,351.00"/>
<polyline fill="none" stroke="#111" stroke-width="0.5" points="120.60,348.00 120.60,353.10 127.00,353.10"/>
<polyline fill="none" stroke="#111" stroke-width="0.5" points="127.00,358.90 115.40,358.90 115.40,364.50 127.00,364.50"/>
<polyline fill="none" stroke="#111" stroke-width="0.45" points="127.00,356.50 122.00,356.50 122.00,358.90 127.00,358.90"/>
<polyline fill="none" stroke="#111" stroke-width="0.45" points="127.00,360.50 119.50,360.50 119.50,363.50 127.00,363.50"/>
<line x1="113.50" y1="361.20" x2="113.50" y2="376.00" stroke="#111" stroke-width="0.5"/>
<line x1="113.50" y1="361.20" x2="115.40" y2="361.20" stroke="#111" stroke-width="0.5"/>
<polyline fill="none" stroke="#111" stroke-width="0.5" points="127.00,366.30 116.00,366.30 116.00,376.60 127.00,376.60"/>
<rect x="117.50" y="368.60" width="9.50" height="8.00" fill="#222" opacity="0.35"/>
<polyline fill="none" stroke="#111" stroke-width="0.45" points="127.00,369.50 120.00,369.50 120.00,373.00 127.00,373.00"/>
<polyline fill="none" stroke="#111" stroke-width="0.45" points="127.00,373.60 118.50,373.60 118.50,375.80 127.00,375.80"/>
<line x1="112.00" y1="372.00" x2="112.00" y2="390.30" stroke="#111" stroke-width="0.5"/>
<line x1="112.00" y1="372.00" x2="116.00" y2="372.00" stroke="#111" stroke-width="0.5"/>
<polyline fill="none" stroke="#111" stroke-width="0.5" points="127.00,378.30 113.00,378.30 113.00,389.60 127.00,389.60"/>
<polyline fill="none" stroke="#111" stroke-width="0.5" points="127.00,383.50 115.00,383.50 115.00,387.00 127.00,387.00"/>
<rect x="116.00" y="383.80" width="11.00" height="3.00" fill="#222" opacity="0.35"/>
<polyline fill="none" stroke="#111" stroke-width="0.45" points="127.00,390.30 118.00,390.30 118.00,392.00 127.00,392.00"/>
<line x1="111.40" y1="380.00" x2="111.40" y2="441.00" stroke="#111" stroke-width="0.5"/>
<polyline fill="none" stroke="#111" stroke-width="0.5" points="127.00,398.30 117.40,398.30 117.40,407.00 127.00,407.00"/>
<line x1="117.40" y1="402.30" x2="127.00" y2="402.30" stroke="#111" stroke-width="0.45"/>
<line x1="114.30" y1="402.90" x2="114.30" y2="412.60" stroke="#111" stroke-width="0.5"/>
<line x1="114.30" y1="402.90" x2="117.40" y2="402.90" stroke="#111" stroke-width="0.45"/>
<polyline fill="none" stroke="#111" stroke-width="0.5" points="127.00,412.00 120.00,412.00 120.00,417.00 127.00,417.00"/>
<rect x="116.50" y="417.00" width="10.50" height="3.50" fill="#222" opacity="0.55"/>
<line x1="113.70" y1="407.00" x2="113.70" y2="420.00" stroke="#111" stroke-width="0.5"/>
<line x1="113.70" y1="420.00" x2="117.00" y2="420.00" stroke="#111" stroke-width="0.45"/>
<line x1="111.40" y1="412.00" x2="113.70" y2="412.00" stroke="#111" stroke-width="0.45"/>
<line x1="111.80" y1="420.00" x2="111.80" y2="440.70" stroke="#111" stroke-width="0.5"/>
<line x1="107.90" y1="441.20" x2="111.80" y2="441.20" stroke="#111" stroke-width="0.55"/>
<polyline fill="none" stroke="#111" stroke-width="0.45" points="127.00,429.80 124.40,429.80 124.40,433.40 127.00,433.40"/>
<polyline fill="none" stroke="#111" stroke-width="0.5" points="127.00,432.80 114.60,432.80 114.60,443.20 127.00,443.20"/>
<rect x="116.00" y="436.50" width="11.00" height="6.50" fill="#222" opacity="0.6"/>
<line x1="116.50" y1="434.80" x2="127.00" y2="434.80" stroke="#111" stroke-width="0.45"/>
<line x1="112.20" y1="441.00" x2="112.20" y2="461.50" stroke="#111" stroke-width="0.5"/>
<polyline fill="none" stroke="#111" stroke-width="0.5" points="127.00,451.70 115.20,451.70 115.20,462.00 127.00,462.00"/>
<rect x="117.00" y="455.40" width="10.00" height="6.60" fill="#222" opacity="0.6"/>
<line x1="117.00" y1="453.60" x2="127.00" y2="453.60" stroke="#111" stroke-width="0.45"/>
<polyline fill="none" stroke="#111" stroke-width="0.45" points="127.00,471.20 121.30,471.20 121.30,474.90"/>
<polyline fill="none" stroke="#111" stroke-width="0.45" points="121.30,473.70 116.50,473.70 116.50,479.00"/>
<polyline fill="none" stroke="#111" stroke-width="0.45" points="116.50,476.40 112.20,476.40 112.20,484.00"/>
<rect x="117.50" y="478.30" width="9.50" height="2.50" fill="#222" opacity="0.55"/>
<line x1="114.00" y1="481.50" x2="127.00" y2="481.50" stroke="#111" stroke-width="0.45"/>
<line x1="107.90" y1="483.40" x2="127.00" y2="483.40" stroke="#111" stroke-width="0.5"/>
<line x1="107.90" y1="487.20" x2="127.00" y2="487.20" stroke="#111" stroke-width="0.5"/>
<line x1="110.00" y1="485.30" x2="124.00" y2="485.30" stroke="#666" stroke-width="0.4"/>
<polyline fill="none" stroke="#111" stroke-width="0.5" points="127.00,492.00 112.80,492.00 112.80,497.00 127.00,497.00"/>
<polyline fill="none" stroke="#111" stroke-width="0.45" points="127.00,489.50 119.00,489.50 119.00,492.00 127.00,492.00"/>
<rect x="114.50" y="494.30" width="12.50" height="2.70" fill="#222" opacity="0.7"/>
<polygon points="127,497 114.7,497 111,500 108.5,503.4 127,503.4" fill="#000" opacity="0.4"/>
<polygon points="127,497.2 115.6,497.2 113.6,500 112.9,503.4 127,503.4" fill="#000" opacity="0.88"/>
<polygon points="127,504.6 120.5,504.6 117.5,506.6 115.5,509.3 112.5,512 111.5,514.8 109.5,517.6 113.5,519.9 112.5,522.6 112.5,525.8 127,526.2" fill="#000" opacity="0.4"/>
<polygon points="127,504.8 121.5,504.8 118.8,506.8 117.6,509.3 115,512 113.8,514.8 112.8,517.6 116,519.9 114.6,522.6 114.4,525.8 127,526.2" fill="#000" opacity="0.88"/>
<line x1="107.00" y1="518.40" x2="112.00" y2="518.40" stroke="#111" stroke-width="0.5"/>
<polyline fill="none" stroke="#000" stroke-width="1.45" points="167.4,62.8 167.4,42.2 5.7,42.2 5.7,167.6"/>
<polyline fill="none" stroke="#000" stroke-width="1.45" points="0.6,161.9 5.7,167.9 10.8,161.9"/>
<polyline fill="none" stroke="#000" stroke-width="1.45" points="141.6,62.8 141.6,53.5 34.3,53.5 34.3,100.4"/>
<polyline fill="none" stroke="#000" stroke-width="1.45" points="29.2,94.5 34.3,100.6 39.4,94.5"/>
<text class="b" font-size="9.35" x="134.7" y="7.3" textLength="83.0" lengthAdjust="spacingAndGlyphs">Hypervirulence</text>
<text class="b" font-size="9.35" x="115.5" y="21.9" textLength="79.5" lengthAdjust="spacingAndGlyphs">Hypovirulence</text>
<text class="b" font-size="9.35" x="215.1" y="25.7" textLength="73.9" lengthAdjust="spacingAndGlyphs">Antimicrobial</text>
<text class="b" font-size="9.35" x="225.4" y="38.1" textLength="56.6" lengthAdjust="spacingAndGlyphs">resistance</text>
<text class="b" font-size="9.35" x="310.4" y="38.1" textLength="90.3" lengthAdjust="spacingAndGlyphs">Stress tolerance</text>
<text class="b" font-size="9.35" x="438.6" y="36.7" textLength="68.9" lengthAdjust="spacingAndGlyphs">Transposons</text>
<text class="b" font-size="9.35" x="567.3" y="38.1" textLength="49.0" lengthAdjust="spacingAndGlyphs">Plasmids</text>
<text class="b" font-size="9.35" x="643.7" y="20.1" textLength="39.4" lengthAdjust="spacingAndGlyphs">Phages</text>
<rect x="31.1" y="102.4" width="70.80000000000001" height="61.79999999999998" fill="#fff" stroke="#000" stroke-width="1"/>
<text class="b" font-size="11.0" x="36.5" y="114.6" textLength="47.9" lengthAdjust="spacingAndGlyphs">Lineage</text>
<line x1="38.0" y1="126.50" x2="52.1" y2="126.50" stroke="#56b4e9" stroke-width="2.6" stroke-linecap="round"/>
<text class="t" font-size="8" x="59.5" y="129.10">Lineage I</text>
<line x1="38.0" y1="135.82" x2="52.1" y2="135.82" stroke="#009e73" stroke-width="2.6" stroke-linecap="round"/>
<text class="t" font-size="8" x="59.5" y="138.42">Lineage II</text>
<line x1="38.0" y1="145.14" x2="52.1" y2="145.14" stroke="#f0e442" stroke-width="2.6" stroke-linecap="round"/>
<text class="t" font-size="8" x="59.5" y="147.74">Lineage III</text>
<line x1="38.0" y1="154.46" x2="52.1" y2="154.46" stroke="#cc79a7" stroke-width="2.6" stroke-linecap="round"/>
<text class="t" font-size="8" x="59.5" y="157.06">Lineage IV</text>
<rect x="0.6" y="172.4" width="101.2" height="115.99999999999997" fill="#fff" stroke="#000" stroke-width="1"/>
<text class="b" font-size="11.0" x="5.5" y="183.9" textLength="93.0" lengthAdjust="spacingAndGlyphs">Clonal complex</text>
<line x1="6.8" y1="196.70" x2="21.4" y2="196.70" stroke="#9e0142" stroke-width="2.6" stroke-linecap="round"/>
<text class="t" font-size="8" x="28.1" y="199.30">CC1</text>
<line x1="6.8" y1="206.10" x2="21.4" y2="206.10" stroke="#f46d43" stroke-width="2.6" stroke-linecap="round"/>
<text class="t" font-size="8" x="28.1" y="208.70">CC2</text>
<line x1="6.8" y1="215.50" x2="21.4" y2="215.50" stroke="#5e4fa2" stroke-width="2.6" stroke-linecap="round"/>
<text class="t" font-size="8" x="28.1" y="218.10">CC6</text>
<line x1="6.8" y1="224.90" x2="21.4" y2="224.90" stroke="#fdae61" stroke-width="2.6" stroke-linecap="round"/>
<text class="t" font-size="8" x="28.1" y="227.50">CC217</text>
<line x1="6.8" y1="234.30" x2="21.4" y2="234.30" stroke="#fee08b" stroke-width="2.6" stroke-linecap="round"/>
<text class="t" font-size="8" x="28.1" y="236.90">CC388</text>
<line x1="6.8" y1="243.70" x2="21.4" y2="243.70" stroke="#abdda4" stroke-width="2.6" stroke-linecap="round"/>
<text class="t" font-size="8" x="28.1" y="246.30">CC4</text>
<line x1="6.8" y1="253.10" x2="21.4" y2="253.10" stroke="#e6f598" stroke-width="2.6" stroke-linecap="round"/>
<text class="t" font-size="8" x="28.1" y="255.70">CC389</text>
<line x1="6.8" y1="262.50" x2="21.4" y2="262.50" stroke="#3288bd" stroke-width="2.6" stroke-linecap="round"/>
<text class="t" font-size="8" x="28.1" y="265.10">CC554</text>
<line x1="6.8" y1="271.90" x2="21.4" y2="271.90" stroke="#66c2a5" stroke-width="2.6" stroke-linecap="round"/>
<text class="t" font-size="8" x="28.1" y="274.50">CC5</text>
<line x1="6.8" y1="281.30" x2="21.4" y2="281.30" stroke="#d53e4f" stroke-width="2.6" stroke-linecap="round"/>
<text class="t" font-size="8" x="28.1" y="283.90">CC11</text>
<rect x="252.4" y="569.7" width="88.49999999999997" height="57.69999999999993" fill="#fff" stroke="#000" stroke-width="1"/>
<text class="b" font-size="11.0" x="259.9" y="581.6" textLength="56.3" lengthAdjust="spacingAndGlyphs">Virulence</text>
<line x1="259.3" y1="591.10" x2="273.0" y2="591.10" stroke="#e0e0e0" stroke-width="2.6" stroke-linecap="round"/>
<text class="t" font-size="8" x="279.8" y="593.70">full gene</text>
<line x1="259.3" y1="600.27" x2="273.0" y2="600.27" stroke="#8470ff" stroke-width="2.6" stroke-linecap="round"/>
<text class="t" font-size="8" x="279.8" y="602.87">truncated gene</text>
<line x1="259.3" y1="609.44" x2="273.0" y2="609.44" stroke="#ffa500" stroke-width="2.6" stroke-linecap="round"/>
<text class="t" font-size="8" x="279.8" y="612.04">&gt;0 gene of LIPI</text>
<line x1="259.3" y1="618.61" x2="273.0" y2="618.61" stroke="#ff0000" stroke-width="2.6" stroke-linecap="round"/>
<text class="t" font-size="8" x="279.8" y="621.21">all genes of LIPI</text>
<rect x="349.4" y="569.7" width="120.70000000000005" height="85.39999999999998" fill="#fff" stroke="#000" stroke-width="1"/>
<text class="b" font-size="11.0" x="354.4" y="582.2" textLength="72.1" lengthAdjust="spacingAndGlyphs">DNA vehicle</text>
<line x1="356.3" y1="591.10" x2="370.3" y2="591.10" stroke="#e5e5e5" stroke-width="2.6" stroke-linecap="round"/>
<text class="t" font-size="8" x="377.2" y="593.70">chromosome (no MGE)</text>
<line x1="356.3" y1="600.30" x2="370.3" y2="600.30" stroke="#7f7f7f" stroke-width="2.6" stroke-linecap="round"/>
<text class="t" font-size="8" x="377.2" y="602.90">plasmid</text>
<line x1="356.3" y1="609.50" x2="370.3" y2="609.50" stroke="#ffa500" stroke-width="2.6" stroke-linecap="round"/>
<text class="t" font-size="8" x="377.2" y="612.10">PP element</text>
<line x1="356.3" y1="618.70" x2="370.3" y2="618.70" stroke="#00ffff" stroke-width="2.6" stroke-linecap="round"/>
<text class="t" font-size="8" x="377.2" y="621.30">chromosomic transposon</text>
<line x1="356.3" y1="627.90" x2="370.3" y2="627.90" stroke="#0000ff" stroke-width="2.6" stroke-linecap="round"/>
<text class="t" font-size="8" x="377.2" y="630.50">plasmidic transposon</text>
<line x1="356.3" y1="637.10" x2="370.3" y2="637.10" stroke="#ff1493" stroke-width="2.6" stroke-linecap="round"/>
<text class="t" font-size="8" x="377.2" y="639.70">phage</text>
<line x1="356.3" y1="646.30" x2="370.3" y2="646.30" stroke="#000000" stroke-width="2.6" stroke-linecap="round"/>
<text class="t" font-size="8" x="377.2" y="648.90">multiple</text>
<text class="b" font-size="9.35" x="10.6" y="580.7" textLength="232.6" lengthAdjust="spacingAndGlyphs">Color legend in presence/absence matrix:</text>
</svg>
</body></html>
